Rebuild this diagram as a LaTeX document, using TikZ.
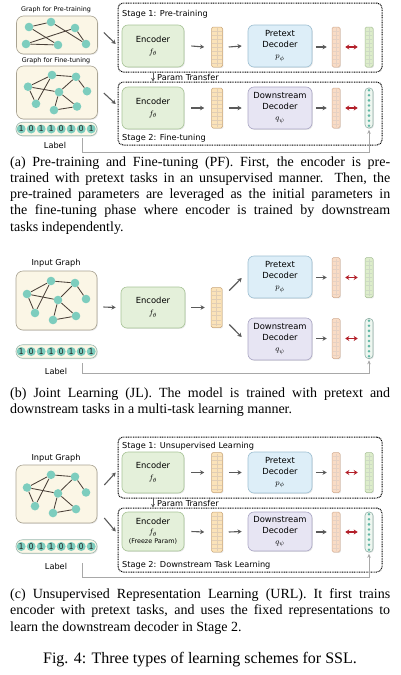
\documentclass[tikz,border=0pt]{standalone}
\usepackage{fontspec}
\setmainfont{Liberation Serif}
\newfontfamily\diagfont{DejaVu Sans}
\usetikzlibrary{arrows.meta,calc,shadows}
\definecolor{graphfill}{HTML}{FBF6E6}
\definecolor{graphdraw}{HTML}{A9A392}
\definecolor{gnode}{HTML}{7DCDBE}
\definecolor{gedge}{HTML}{4A4038}
\definecolor{encfill}{HTML}{E4F0DA}
\definecolor{encdraw}{HTML}{A8C497}
\definecolor{ptfill}{HTML}{DDEEF8}
\definecolor{ptdraw}{HTML}{9EBFD2}
\definecolor{dsfill}{HTML}{E7E5F3}
\definecolor{dsdraw}{HTML}{AAA6C4}
\definecolor{vafill}{HTML}{FBE3B9}
\definecolor{vadraw}{HTML}{C9A679}
\definecolor{vbfill}{HTML}{F9DCC6}
\definecolor{vbdraw}{HTML}{D2AC92}
\definecolor{vcfill}{HTML}{DDEDCB}
\definecolor{vcdraw}{HTML}{A6BE96}
\definecolor{arrowgray}{HTML}{5A5A5A}
\definecolor{redarrow}{HTML}{B3202A}
\definecolor{labelline}{HTML}{A8A8A8}
\definecolor{pilldraw}{HTML}{9AB8AE}
\definecolor{lvdraw}{HTML}{8FB0A6}
\definecolor{lvfill}{HTML}{EEF6F0}
\definecolor{ldotc}{HTML}{5FB7A5}
\tikzset{
  shd/.style={drop shadow={opacity=0.18,shadow xshift=0.9pt,shadow yshift=-0.9pt}},
  graphbox/.style={draw=graphdraw, fill=graphfill, rounded corners=7pt, line width=0.6pt, shd, minimum width=81pt, inner sep=0pt},
  gn/.style={circle, fill=gnode, minimum size=8.6pt, inner sep=0pt},
  ge/.style={draw=gedge, line width=0.85pt},
  blockbase/.style={rounded corners=6pt, line width=0.6pt, align=center, inner sep=0pt, shd, font=\diagfont\fontsize{8.4}{11}\selectfont},
  encbox/.style={blockbase, draw=encdraw, fill=encfill, minimum width=62pt, minimum height=42pt},
  ptbox/.style={blockbase, draw=ptdraw, fill=ptfill, minimum width=64pt, minimum height=42pt},
  dsbox/.style={blockbase, draw=dsdraw, fill=dsfill, minimum width=64pt, minimum height=42pt},
  stagebox/.style={draw=black, line width=1pt, dash pattern=on 0.9pt off 0.8pt, rounded corners=5pt, minimum width=264pt, inner sep=0pt},
  stagelbl/.style={anchor=west, inner sep=0pt, font=\diagfont\fontsize{8.2}{9}\selectfont},
  txt/.style={inner sep=0pt, font=\diagfont\fontsize{8.2}{9}\selectfont},
  garr/.style={draw=arrowgray, line width=1.1pt, -{Stealth[length=4.2pt,width=4.6pt]}},
  rarr/.style={draw=redarrow, line width=1.2pt, {Stealth[length=4pt,width=5pt]}-{Stealth[length=4pt,width=5pt]}},
  lline/.style={draw=labelline, line width=0.9pt, -{Stealth[length=4pt,width=3.5pt]}},
  pill/.style={draw=pilldraw, fill=graphfill, rounded corners=6.5pt, minimum width=81pt, minimum height=13.5pt, inner sep=0pt, line width=0.6pt, shd},
  digit/.style={circle, fill=gnode, minimum size=9pt, inner sep=0pt, font=\diagfont\fontsize{8}{8}\selectfont, text=black!85},
  lvec/.style={draw=lvdraw, fill=lvfill, rounded corners=3.5pt, minimum width=8pt, minimum height=40pt, inner sep=0pt, line width=0.6pt, shd},
  ldot/.style={circle, fill=ldotc, minimum size=2.8pt, inner sep=0pt},
  capnode/.style={anchor=base west, inner sep=0pt, font=\fontsize{14}{16}\selectfont},
}
\newcommand\featvec[5]{%
  \node[rounded corners=1.5pt, line width=0.5pt, minimum width=#3, minimum height=40pt, inner sep=0pt, fill=#4, draw=#5, shd] (#1) at #2 {};
  \foreach \k in {1,...,9}{\draw[#5!55, line width=0.3pt] ($(#1.north west)!{\k/10}!(#1.south west)+(1pt,0)$) -- ($(#1.north east)!{\k/10}!(#1.south east)+(-1pt,0)$);}
  \draw[#5!55, line width=0.3pt] ($(#1.north)+(0,1.5)$) -- ($(#1.south)+(0,-1.5)$);
}
\newcommand\labvec[2]{%
  \node[lvec] (#1) at #2 {};
  \foreach \k in {0,...,7}{\node[ldot] (#1d\k) at ($(#1.north)!{(\k+0.5)/8}!(#1.south)$) {};}
}
\newcommand\labelpill[2]{%
  \node[pill] (#1) at #2 {};
  \foreach \d [count=\i from 0] in {1,0,1,1,0,1,0,1}{\node[digit] (#1d\i) at ($(#1.west)+({5.5+10*\i},0)$) {\d};}
}
\newcommand\inputgraph[4]{%
  \begin{scope}[shift={(#2,#3)}]
    \foreach \n/\x/\y in {1/35/10, 2/59/12, 3/11/23, 4/42/29, 5/70/28, 6/19/42, 7/37/49, 8/60/45}{\node[gn] (#1\n) at (\x,{\y*#4}) {};}
  \end{scope}
  \foreach \a/\b in {1/2, 1/6, 1/3, 3/4, 3/6, 2/4, 2/5, 4/7, 4/8, 7/8}{\draw[ge] (#1\a) -- (#1\b);}
}
\newcommand\capline[3]{\node[capnode] (#1) at (10,#2) {\hbox to 380pt{\spaceskip=0.25em plus 0.8em minus 0.1em\relax #3}};}
\newcommand\caplast[3]{\node[capnode] (#1) at (10,#2) {#3};}
\begin{document}
\begin{tikzpicture}[x=1pt,y=-1pt]
\useasboundingbox (0,0) rectangle (400,675);
\fill[white] (0,0) rectangle (400,675);

%% ================= (a) =================
\node[stagebox, minimum height=69pt] (sa1) at (250,37.5) {};
\node[stagebox, minimum height=63pt] (sa2) at (250,113.5) {};
\node[stagelbl] (sa1l) at (122,14) {Stage 1: Pre-training};
\node[stagelbl] (sa2l) at (122,138) {Stage 2: Fine-tuning};

\node[txt, font=\diagfont\fontsize{6.4}{7}\selectfont] (ta1) at (56,10) {Graph for Pre-training};
\node[graphbox, minimum height=38pt] (ga1) at (57,35) {};
\begin{scope}[shift={(17,16)}]
  \node[gn] (pa) at (12,11) {};
  \node[gn] (pb) at (34,6) {};
  \node[gn] (pc) at (58,12) {};
  \node[gn] (pd) at (9,28) {};
  \node[gn] (pe) at (41,29) {};
  \node[gn] (pf) at (69,28) {};
\end{scope}
\foreach \a/\b in {pa/pb, pa/pe, pb/pf, pd/pc, pd/pe, pc/pf}{\draw[ge] (\a) -- (\b);}

\node[txt, font=\diagfont\fontsize{6.4}{7}\selectfont] (ta2) at (56,61) {Graph for Fine-tuning};
\node[graphbox, minimum height=53pt] (ga2) at (57,92.5) {};
\inputgraph{fa}{17}{66}{0.9}
\labelpill{pla}{(56.5,129)}
\node[txt] (lta) at (55,145) {Label};

\node[encbox] (ea1) at (153,46) {Encoder\\[1pt]$f_\theta$};
\featvec{va1}{(217,47)}{11pt}{vafill}{vadraw}
\node[ptbox] (pda) at (280,46) {Pretext\\Decoder\\$p_\phi$};
\featvec{oa1}{(336,47)}{8pt}{vbfill}{vbdraw}
\featvec{gra}{(369,47)}{8pt}{vcfill}{vcdraw}

\node[encbox] (ea2) at (153,108) {Encoder\\[1pt]$f_\theta$};
\featvec{va2}{(217,108)}{11pt}{vafill}{vadraw}
\node[dsbox] (dda) at (280,108) {Downstream\\Decoder\\$q_\psi$};
\featvec{oa2}{(336,108)}{8pt}{vbfill}{vbdraw}
\labvec{lva}{(369,108)}

\draw[garr] ($(ga1.east)+(6,-2.5)$) -- ($(ea1.west)+(-6,-2)$);
\draw[garr] ($(ga2.east)+(6,0.5)$) -- ($(ea2.west)+(-6,-4)$);
\foreach \r in {1,2}{
  \draw[garr] ($(ea\r.east)+(7,0)$) -- ($(va\r.west)+(-7,0)$);
  \draw[garr] ($(oa\r.west)+(-5,0)$) ++(-11,0) -- ($(oa\r.west)+(-5,0)$);
}
\draw[garr] ($(va1.east)+(6,0)$) -- ($(pda.west)+(-6,0)$);
\draw[garr] ($(va2.east)+(6,0)$) -- ($(dda.west)+(-6,0)$);
\draw[rarr] ($(oa1.east)+(5,0)$) -- ($(gra.west)+(-7,0)$);
\draw[rarr] ($(oa2.east)+(5,0)$) -- ($(lva.west)+(-7,0)$);
\draw[draw=arrowgray, line width=1pt, -{Stealth[length=3.5pt,width=3.8pt]}] (ea1.south |- sa1.south) -- (ea1.south |- sa2.north);
\node[stagelbl] (pta) at (157,77) {Param Transfer};
\coordinate (lsa) at (82,138);
\draw[lline, shorten >=1.5pt] (lsa) -- ++(0,14) -| (lva.south);

%% ================= (b) =================
\node[txt] (tb) at (56,263) {Input Graph};
\node[graphbox, minimum height=59pt] (gb) at (56.5,300.5) {};
\inputgraph{fb}{16}{271}{1}
\labelpill{plb}{(56.5,351.5)}
\node[txt] (ltb) at (56,371) {Label};

\node[encbox, minimum width=64pt, minimum height=41pt] (eb) at (153,307.5) {Encoder\\[1pt]$f_\theta$};
\featvec{vb}{(216.5,307.5)}{11pt}{vafill}{vadraw}
\node[ptbox] (pdb) at (280,277) {Pretext\\Decoder\\$p_\phi$};
\featvec{ob1}{(336,277.5)}{8pt}{vbfill}{vbdraw}
\featvec{grb}{(369,277.5)}{8pt}{vcfill}{vcdraw}
\node[dsbox] (ddb) at (280,339) {Downstream\\Decoder\\$q_\psi$};
\featvec{ob2}{(336,338.5)}{8pt}{vbfill}{vbdraw}
\labvec{lvb}{(369,338.5)}

\draw[garr] ($(gb.east)+(6,6.5)$) -- ($(eb.west)+(-5,0)$);
\draw[garr] ($(eb.east)+(6,0)$) -- ($(vb.west)+(-6,0)$);
\draw[garr] ($(vb.east)+(7,-17)$) -- ($(pdb.west)+(-6,1)$);
\draw[garr] ($(vb.east)+(7,17)$) -- ($(ddb.west)+(-6,-2)$);
\draw[garr] ($(pdb.east)+(4,0.5)$) -- ($(ob1.west)+(-5,0)$);
\draw[garr] ($(ddb.east)+(4,-0.5)$) -- ($(ob2.west)+(-5,0)$);
\draw[rarr] ($(ob1.east)+(5,0)$) -- ($(grb.west)+(-7,0)$);
\draw[rarr] ($(ob2.east)+(5,0)$) -- ($(lvb.west)+(-7,0)$);
\coordinate (lsb) at (82,363);
\draw[lline, shorten >=1.5pt] (lsb) -- ++(0,10) -| (lvb.south);

%% ================= (c) =================
\node[stagebox, minimum height=61pt] (sc1) at (250,467.5) {};
\node[stagebox, minimum height=64pt] (sc2) at (250,540) {};
\node[stagelbl] (sc1l) at (122,446) {Stage 1: Unsupervised Learning};
\node[stagelbl] (sc2l) at (122,565) {Stage 2: Downstream Task Learning};

\node[txt] (tc) at (56,458) {Input Graph};
\node[graphbox, minimum height=58pt] (gc) at (56.5,494) {};
\inputgraph{fc}{16}{465}{0.98}
\labelpill{plc}{(56.5,546.5)}
\node[txt] (ltc) at (56,566) {Label};

\node[encbox, minimum height=41pt] (ec1) at (153,472.5) {Encoder\\[1pt]$f_\theta$};
\featvec{vc1}{(217,472.5)}{11pt}{vafill}{vadraw}
\node[ptbox, minimum height=41pt] (pdc) at (280,472.5) {Pretext\\Decoder\\$p_\phi$};
\featvec{oc1}{(336,472.5)}{8pt}{vbfill}{vbdraw}
\featvec{grc}{(369,472.5)}{8pt}{vcfill}{vcdraw}

\node[encbox, minimum height=39pt] (ec2) at (153,531.5) {Encoder\\[-1pt]$f_\theta$\\[-2pt]{\fontsize{6.4}{7}\selectfont(Freeze Param)}};
\featvec{vc2}{(217,532)}{11pt}{vafill}{vadraw}
\node[dsbox, minimum height=39pt] (ddc) at (280,531.5) {Downstream\\Decoder\\$q_\psi$};
\featvec{oc2}{(336,532)}{8pt}{vbfill}{vbdraw}
\labvec{lvc}{(369,532)}

\draw[garr] ($(gc.east)+(7,-9)$) -- ($(ec1.west)+(-6,0)$);
\draw[garr] ($(gc.east)+(7,24)$) -- ($(ec2.west)+(-6,0)$);
\foreach \r in {1,2}{
  \draw[garr] ($(ec\r.east)+(7,0)$) -- ($(vc\r.west)+(-7,0)$);
  \draw[garr] ($(oc\r.west)+(-5,0)$) ++(-11,0) -- ($(oc\r.west)+(-5,0)$);
}
\draw[garr] ($(vc1.east)+(6,0)$) -- ($(pdc.west)+(-6,0)$);
\draw[garr] ($(vc2.east)+(6,0)$) -- ($(ddc.west)+(-6,0)$);
\draw[rarr] ($(oc1.east)+(5,0)$) -- ($(grc.west)+(-7,0)$);
\draw[rarr] ($(oc2.east)+(5,0)$) -- ($(lvc.west)+(-7,0)$);
\draw[draw=arrowgray, line width=1pt, -{Stealth[length=3.5pt,width=3.8pt]}] (ec1.south |- sc1.south) -- (ec1.south |- sc2.north);
\node[stagelbl] (ptc) at (157,503) {Param Transfer};
\coordinate (lsc) at (82,563);
\draw[lline, shorten >=1.5pt] (lsc) -- ++(0,14) -| (lvc.south);

%% ================= captions =================
\capline{ca1}{166}{(a) Pre-training and Fine-tuning (PF). First, the encoder is pre-}
\capline{ca2}{182.3}{trained with pretext tasks in an unsupervised manner. Then, the}
\capline{ca3}{198.6}{pre-trained parameters are leveraged as the initial parameters in}
\capline{ca4}{214.9}{the fine-tuning phase where encoder is trained by downstream}
\caplast{ca5}{231.2}{tasks independently.}
\capline{cb1}{397}{(b) Joint Learning (JL). The model is trained with pretext and}
\caplast{cb2}{413.5}{downstream tasks in a multi-task learning manner.}
\capline{cc1}{598}{(c) Unsupervised Representation Learning (URL). It first trains}
\capline{cc2}{614.5}{encoder with pretext tasks, and uses the fixed representations to}
\caplast{cc3}{631}{learn the downstream decoder in Stage 2.}
\node[capnode, anchor=base, font=\fontsize{16}{18}\selectfont] (fig) at (200,663) {Fig. 4: Three types of learning schemes for SSL.};
\end{tikzpicture}
\end{document}
